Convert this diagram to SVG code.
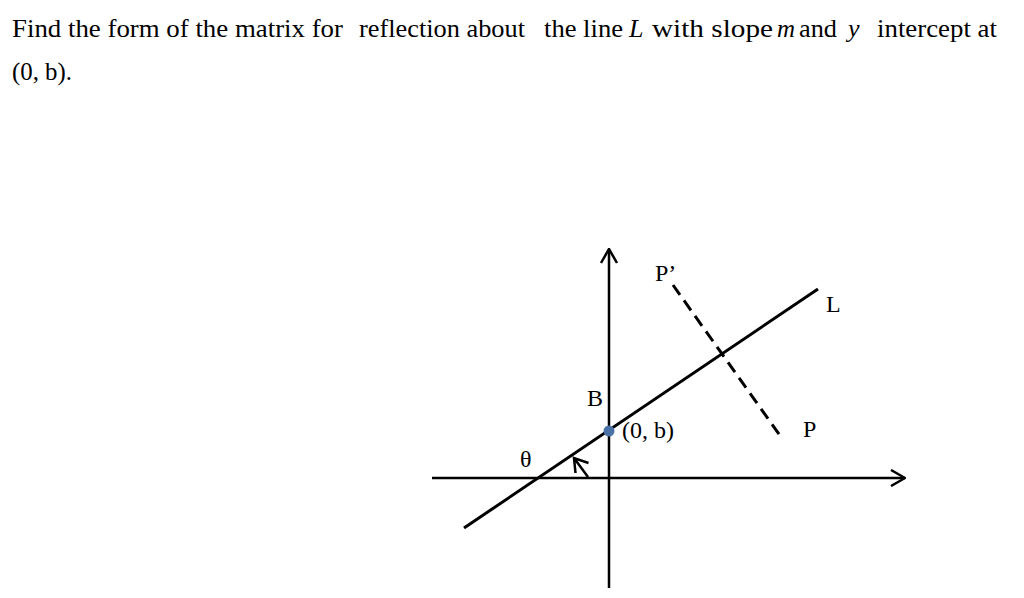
<svg xmlns="http://www.w3.org/2000/svg" width="1024" height="598" viewBox="0 0 1024 598">
<style>
.t{font-family:"Liberation Serif","Times New Roman",serif;fill:#000}
.title{font-size:26px}
.lbl{font-size:24px}
.i{font-style:italic}
.ax{stroke:#000;stroke-width:2.5;fill:none}
.ln{stroke:#000;stroke-width:3;fill:none}
.dash{stroke:#000;stroke-width:3;fill:none;stroke-dasharray:12 7}
</style>
<defs>
<marker id="open" viewBox="0 0 16 18" refX="15" refY="9" markerWidth="16" markerHeight="18" markerUnits="userSpaceOnUse" orient="auto">
<path d="M1,1 L15,9 L1,17" fill="none" stroke="#000" stroke-width="2.5"/>
</marker>
</defs>
<rect width="1024" height="598" fill="#fff"/>
<g id="question">
<text class="t title" y="37"><tspan x="12" textLength="331" lengthAdjust="spacingAndGlyphs">Find the form of the matrix for</tspan><tspan x="359" textLength="166" lengthAdjust="spacingAndGlyphs">reflection about</tspan><tspan x="544" textLength="79" lengthAdjust="spacingAndGlyphs">the line</tspan><tspan x="629" class="i">L</tspan><tspan x="652" textLength="121" lengthAdjust="spacingAndGlyphs">with slope</tspan><tspan x="777" class="i" textLength="18" lengthAdjust="spacingAndGlyphs">m</tspan><tspan x="799" textLength="38" lengthAdjust="spacingAndGlyphs">and</tspan><tspan x="848" class="i">y</tspan><tspan x="877" textLength="120" lengthAdjust="spacingAndGlyphs">intercept at</tspan></text>
<text class="t title" x="12" y="80" textLength="60" lengthAdjust="spacingAndGlyphs">(0, b).</text>
</g>
<g id="connectors">
<line id="y-axis" class="ax" x1="609" y1="588" x2="609" y2="249" marker-end="url(#open)"/>
<line id="x-axis" class="ax" x1="432" y1="478" x2="905" y2="478" marker-end="url(#open)"/>
<line id="line-L" class="ln" x1="464" y1="528" x2="818" y2="289"/>
<line id="perp" class="dash" x1="673" y1="285" x2="781" y2="437"/>
<path id="angle-arrow" class="ax" d="M588,477 L574,458 M575.5,473 L574,458 L588.5,463"/>
</g>
<g id="point-0b">
<circle cx="609" cy="431" r="5.5" fill="#4a72a6"/>
<text class="t lbl" x="622" y="438">(0, b)</text>
</g>
<g id="label-B"><text class="t lbl" x="587" y="406">B</text></g>
<g id="label-Pprime"><text class="t lbl" x="655" y="281">P’</text></g>
<g id="label-L"><text class="t lbl" x="826" y="312">L</text></g>
<g id="label-P"><text class="t lbl" x="803" y="437">P</text></g>
<g id="label-theta"><text class="t lbl" x="520" y="467">θ</text></g>
</svg>
